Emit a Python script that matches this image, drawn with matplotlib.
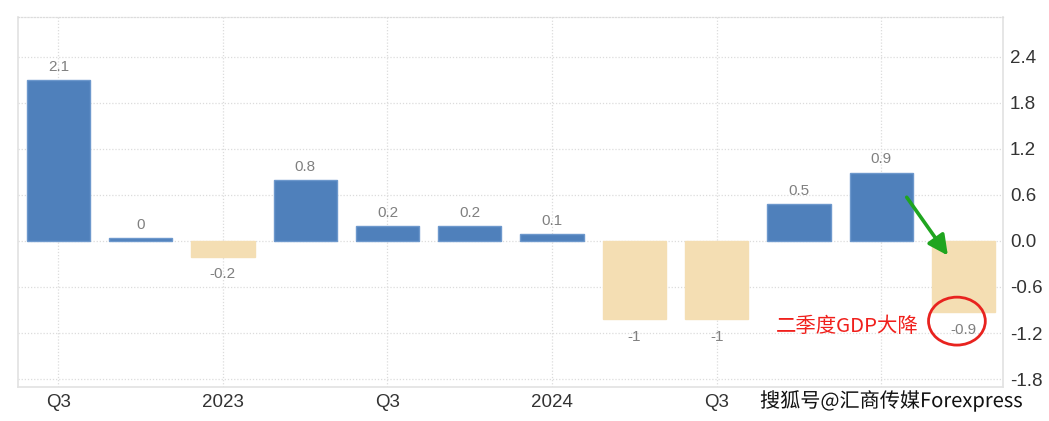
import matplotlib
matplotlib.use("Agg")
import matplotlib.pyplot as plt
from matplotlib.patches import Ellipse
import matplotlib.patheffects as pe

plt.rcParams['font.family'] = ['Liberation Sans', 'Noto Sans CJK SC', 'DejaVu Sans']

# Data: quarterly GDP growth (QoQ %), 2022 Q3 .. 2025 Q2
quarters = ["2022Q3", "2022Q4", "2023Q1", "2023Q2", "2023Q3", "2023Q4",
            "2024Q1", "2024Q2", "2024Q3", "2024Q4", "2025Q1", "2025Q2"]
values = [2.10, 0.04, -0.21, 0.79, 0.19, 0.19, 0.09, -1.02, -1.02, 0.48, 0.89, -0.93]
value_labels = ["2.1", "0", "-0.2", "0.8", "0.2", "0.2", "0.1", "-1", "-1", "0.5", "0.9", "-0.9"]
xtick_pos = [0, 2, 4, 6, 8, 10]
xtick_labels = ["Q3", "2023", "Q3", "2024", "Q3", ""]
yticks = [-1.8, -1.2, -0.6, 0.0, 0.6, 1.2, 1.8, 2.4]

BLUE = "#4f80bb"
BLUE_EDGE = "#6d98cc"
BEIGE = "#f4deb3"
GRID = "#dcdcdc"

fig = plt.figure(figsize=(10.49, 4.21), dpi=100)
ax = fig.add_axes([18/1049, 1 - 387/421, (1003 - 18)/1049, (387 - 17)/421])

x = list(range(len(values)))
colors = [BLUE if v >= 0 else BEIGE for v in values]
edges = [BLUE_EDGE if v >= 0 else BEIGE for v in values]
ax.bar(x, values, width=0.77, color=colors, edgecolor=edges, linewidth=1, zorder=3)

for xi, v, lab in zip(x, values, value_labels):
    if v >= 0:
        ax.annotate(lab, (xi, v), xytext=(0, 4.5), textcoords="offset points",
                    ha="center", va="bottom", fontsize=11, color="#808080", zorder=4)
    else:
        ax.annotate(lab, (xi, v), xytext=(0, -7.5), textcoords="offset points",
                    ha="center", va="top", fontsize=11, color="#808080", zorder=4)

ax.set_xlim(-0.49, 11.48)
ax.set_ylim(-1.904, 2.92)

ax.set_yticks(yticks)
ax.set_yticklabels([f"{t:.1f}" for t in yticks])
ax.yaxis.tick_right()
ax.set_xticks(xtick_pos)
ax.set_xticklabels(xtick_labels)
ax.tick_params(axis="both", length=0, labelsize=13.5, colors="#333333")
ax.tick_params(axis="y", pad=5)
ax.tick_params(axis="x", pad=5)

ax.grid(True, color=GRID, linestyle=(0, (1, 1.5)), linewidth=0.9, zorder=0)

for side in ["left", "right", "bottom"]:
    ax.spines[side].set_color("#e2e2e2")
    ax.spines[side].set_linewidth(1.2)
ax.spines["top"].set_color(GRID)
ax.spines["top"].set_linestyle((0, (1, 1.5)))
ax.spines["top"].set_linewidth(0.9)

# Annotations
ax.annotate("", xy=(10.81, -0.19), xytext=(10.31, 0.57),
            arrowprops=dict(arrowstyle="-|>", color="#1fa51f", lw=2.6,
                            mutation_scale=30, shrinkA=0, shrinkB=0), zorder=6)
ax.add_patch(Ellipse((10.92, -1.045), 0.69, 0.625, fill=False,
                     edgecolor="#e8231f", linewidth=2, zorder=6))
ax.text(8.72, -1.12, "二季度GDP大降", color="#f0201c", fontsize=14.7,
        family=["Noto Sans CJK SC", "DejaVu Sans"], ha="left", va="center", zorder=6)

# Watermark
fig.text(760/1049, 1 - 401/421, "搜狐号@汇商传媒Forexpress", fontsize=14.5,
         family=["Noto Sans CJK SC", "DejaVu Sans"], color="#111111",
         ha="left", va="center", weight="medium",
         path_effects=[pe.withStroke(linewidth=3, foreground="white")])

fig.savefig("out.png", dpi=100)
